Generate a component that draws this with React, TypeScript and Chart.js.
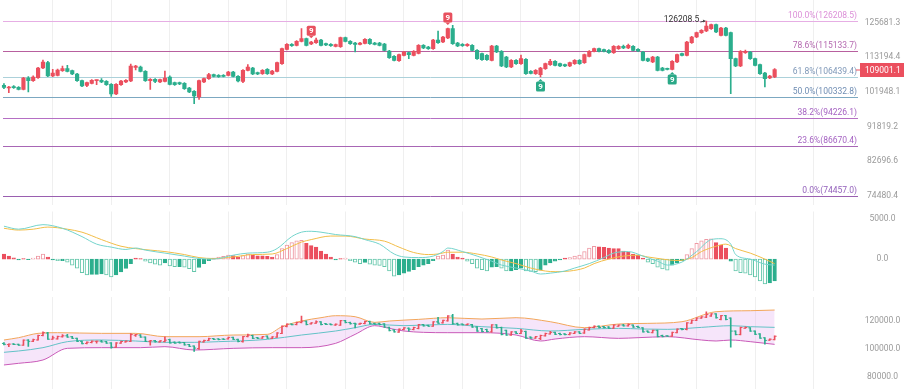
import React, { useEffect, useRef } from "react";
import { Chart, registerables } from "chart.js";

Chart.register(...registerables);

// ---------------- data ----------------
const opens = [
  103950, 103120, 103540, 103330, 102710, 106270, 105420, 106380, 109530, 111300,
  106920, 107130, 108650, 109310, 108650, 107560, 105420, 103950, 104580, 105430,
  105530, 105210, 104260, 101270, 104160, 105000, 105320, 109750, 109860, 108430,
  105420, 105850, 105000, 105210, 106600, 104790, 104790, 104580, 103120, 102090,
  100360, 105000, 106060, 107350, 107130, 107030, 107130, 108220, 106810, 105210,
  108760, 109530, 108000, 107670, 109090, 107560, 108430, 110970, 115880, 117630,
  117280, 118700, 119660, 117750, 118230, 119180, 117870, 117630, 116930, 116810,
  120020, 118700, 118100, 117630, 117990, 119420, 118100, 118100, 117750, 115300,
  113450, 111980, 113800, 114710, 113800, 114480, 117280, 116690, 116110, 119180,
  118470, 119900, 123320, 118100, 117630, 117160, 117280, 115530, 114370, 113800,
  112100, 117050, 115180, 113220, 109860, 112100, 110970, 112430, 108430, 107670,
  107350, 109310, 110630, 111760, 110970, 110630, 110190, 110970, 112100, 111300,
  113450, 115180, 116110, 115760, 115530, 114710, 116110, 116930, 116340, 116930,
  115880, 114940, 112660, 111530, 113220, 109530, 109310, 109090, 111530, 114370,
  113800, 118230, 120260, 121850, 122460, 123320, 124820, 120870, 123570, 121850,
  112660, 110190, 114710, 114940, 112660, 110630, 107890, 106270, 106600,
];
const highs = [
  104470, 103640, 103850, 103540, 106490, 106700, 107000, 109750, 112200, 111760,
  109090, 109200, 110190, 110410, 108870, 107780, 105640, 105010, 105750, 105640,
  106060, 105420, 104470, 104470, 105530, 105750, 110860, 110410, 110190, 108650,
  106060, 106060, 105960, 108540, 107000, 105000, 105010, 104790, 103330, 102300,
  105640, 106270, 107780, 107560, 107350, 107350, 108430, 108430, 107030, 108980,
  110630, 109750, 108220, 108980, 109310, 108760, 111530, 116340, 117870, 117870,
  118940, 123320, 119900, 118700, 119900, 119420, 118100, 117870, 117750, 120260,
  120260, 118940, 118340, 118340, 119660, 119660, 118340, 118340, 117990, 115530,
  113680, 114250, 115180, 114940, 115410, 117520, 117520, 116930, 119420, 122460,
  120500, 123570, 124570, 118340, 117870, 117870, 117520, 115760, 114600, 114020,
  117280, 117280, 115410, 113450, 112320, 112320, 113900, 112660, 108650, 108980,
  109750, 111190, 112430, 111980, 111190, 110860, 111530, 112320, 112320, 114250,
  115410, 116340, 116340, 115990, 115760, 117160, 117160, 117400, 117750, 117160,
  116110, 115180, 112880, 113450, 113450, 109750, 109530, 111980, 114250, 114600,
  118700, 120500, 122090, 122960, 126208.5, 125070, 125070, 123820, 123820, 122090,
  112880, 115410, 115640, 115180, 112880, 110860, 108110, 107130, 109310,
];
const lows = [
  102910, 101680, 103020, 102500, 102500, 101880, 105200, 106170, 109310, 106700,
  106700, 106920, 108430, 108210, 107350, 105200, 103540, 103540, 104370, 104160,
  104790, 103950, 100560, 101070, 103950, 104790, 105110, 108870, 108210, 105210,
  102710, 104790, 104790, 105000, 104050, 103950, 104160, 102710, 101680, 98360,
  99660, 104790, 105850, 106600, 106490, 106600, 106920, 106600, 105000, 104790,
  108540, 107350, 107350, 107450, 107450, 107350, 108220, 110750, 115650, 116930,
  117050, 118460, 117050, 117520, 118000, 117050, 117160, 116930, 116700, 116580,
  118460, 117630, 114940, 117400, 117750, 117630, 117400, 117050, 115300, 112770,
  111870, 111760, 113570, 112660, 113570, 114250, 116110, 115880, 115880, 117990,
  118230, 119660, 117630, 116810, 116930, 116930, 115300, 112430, 112100, 112100,
  111870, 114710, 109970, 109640, 109640, 110750, 110750, 107450, 107560, 107450,
  106600, 109090, 110410, 110190, 109970, 109970, 109970, 110750, 110750, 111080,
  113220, 114940, 114940, 114940, 114480, 114480, 115880, 116110, 116110, 115300,
  115060, 111870, 111640, 111300, 108540, 108540, 108870, 108870, 111300, 113570,
  113570, 117990, 120020, 121600, 122210, 123070, 121850, 120630, 120630, 101370,
  109970, 109970, 114480, 112430, 110190, 107450, 103430, 106060, 106380,
];
const closes = [
  103330, 103430, 103230, 102710, 106270, 105420, 106600, 109530, 111530, 106920,
  107890, 108870, 109310, 108430, 107560, 105420, 103750, 104790, 105530, 105530,
  105000, 104160, 101270, 104260, 105320, 105530, 110190, 110190, 108430, 105420,
  105850, 105210, 105750, 106270, 104260, 104160, 104370, 102910, 101880, 100660,
  105420, 106060, 107350, 106810, 106700, 106810, 108220, 106810, 105320, 108760,
  109860, 107560, 107560, 108760, 107670, 108540, 111300, 116110, 117630, 117160,
  118700, 119660, 117280, 118470, 119180, 117280, 117400, 117160, 117520, 120020,
  118700, 117870, 117630, 118100, 119420, 117870, 117630, 117280, 115530, 112990,
  112100, 114020, 114940, 114020, 115180, 117280, 116340, 116110, 119180, 118230,
  120260, 123320, 117870, 117050, 117160, 117630, 115530, 112660, 112320, 112320,
  117050, 114940, 110190, 109860, 112100, 110970, 112660, 107670, 107780, 108760,
  109530, 110970, 111760, 110410, 110190, 110190, 111300, 112100, 110970, 114020,
  115180, 116110, 115180, 115180, 114710, 116930, 116930, 116340, 117280, 115530,
  115300, 112100, 111870, 113220, 108760, 108760, 109090, 111760, 114020, 113800,
  118470, 120260, 121850, 122710, 124320, 124820, 122090, 123570, 120870, 112660,
  110190, 115180, 115180, 112660, 110410, 107670, 106060, 106920, 109001.1,
];

const macdHist = [
  630, 370, 150, -110, 70, -70, 110, 370, 630, 260,
  -110, -185, -185, -370, -740, -1110, -1670, -1960, -1890, -1890,
  -1850, -1960, -2220, -1960, -1590, -1150, -560, 110, 70, -260,
  -480, -630, -740, -480, -850, -930, -930, -1000, -1190, -1560,
  -1040, -560, -185, 110, 260, 330, 480, 440, 260, 440,
  630, 480, 410, 410, 330, 260, 560, 1300, 1740, 2040,
  2260, 2330, 1960, 1670, 1480, 1000, 630, 260, -110, 70,
  110, -185, -370, -560, -410, -630, -740, -780, -930, -1480,
  -2110, -1960, -1740, -1520, -1300, -930, -740, -560, -185, 370,
  480, 1110, 630, 260, 110, -260, -560, -1110, -1300, -1480,
  -1000, -930, -1110, -1480, -1480, -1300, -1110, -1480, -1520, -1560,
  -1370, -740, -480, -260, -110, 110, 185, 370, 480, 930,
  1370, 1590, 1520, 1440, 1370, 1300, 1300, 1000, 850, 630,
  480, 110, -370, -560, -1000, -1220, -1370, -740, -480, -185,
  560, 1300, 1960, 2260, 2440, 2520, 2040, 1740, 1370, -260,
  -1480, -1670, -1740, -1960, -2220, -2700, -3070, -2960, -2700,
];

// [candle index, value]
const difPoints = [
  [0, 4070], [3, 3700], [8, 4260], [12, 3810], [16, 2780], [19, 1850], [22, 1480], [25, 1190],
  [27, 1370], [29, 1110], [33, 740], [37, 370], [40, 70], [43, 0], [47, 480], [50, 740], [54, 850],
  [56, 1300], [59, 2780], [61, 3330], [63, 3440], [65, 3330], [68, 3040], [72, 2780], [74, 2410],
  [77, 1850], [80, 630], [82, 260], [85, 185], [88, 370], [90, 930], [91, 1370], [94, 930], [97, 370],
  [100, -260], [102, -740], [105, -1110], [108, -1480], [110, -1850], [112, -1740], [115, -1480],
  [117, -1110], [120, -560], [123, 185], [125, 740], [128, 930], [131, 370], [134, -260], [136, -740],
  [139, -370], [142, 930], [145, 2410], [147, 2520], [149, 1850], [150, 560], [153, 0], [156, -630], [158, -740],
];
const deaPoints = [
  [0, 3810], [3, 3590], [6, 3700], [9, 3960], [13, 3700], [16, 3330], [20, 2410], [24, 1590], [27, 1300],
  [30, 1110], [33, 930], [37, 560], [40, 185], [43, 70], [47, 260], [51, 560], [55, 630], [58, 1300],
  [61, 2110], [63, 2410], [67, 2850], [70, 2850], [74, 2480], [78, 2220], [81, 1480], [84, 815], [87, 560],
  [89, 630], [91, 850], [94, 850], [97, 630], [100, 260], [102, -110], [105, -560], [108, -1110],
  [111, -1480], [113, -1560], [116, -1480], [119, -1110], [121, -560], [124, 0], [127, 370], [130, 480],
  [132, 260], [135, 0], [138, -185], [141, 185], [143, 930], [146, 1590], [148, 1850], [150, 1300],
  [153, 740], [156, 0], [158, -560],
];
const bollUpper = [
  [0, 106350], [3, 108000], [7, 111060], [11, 111530], [20, 111060], [27, 111060], [33, 108710],
  [40, 108710], [47, 109880], [54, 110350], [57, 115770], [61, 119770], [65, 122120], [68, 123530],
  [72, 122820], [76, 118820], [79, 119770], [85, 120940], [91, 122120], [98, 121180], [105, 122120],
  [112, 119290], [119, 115060], [126, 117650], [132, 118120], [139, 119290], [146, 126350],
  [153, 127060], [158, 127530],
];
const bollMid = [
  [0, 97650], [3, 98590], [8, 100940], [13, 105180], [20, 106350], [27, 105650], [33, 104710],
  [39, 104710], [44, 105180], [54, 106820], [61, 109880], [68, 112710], [72, 115060], [76, 117410],
  [82, 116470], [91, 117410], [98, 115770], [105, 114590], [112, 112710], [119, 113880], [126, 114590],
  [131, 114120], [136, 113880], [143, 115290], [149, 116470], [153, 115770], [158, 115290],
];
const bollLower = [
  [0, 88710], [3, 89880], [8, 92240], [13, 100470], [20, 100940], [28, 100940], [33, 101650],
  [39, 99290], [47, 100470], [55, 100940], [61, 100940], [68, 104000], [72, 110350], [76, 116470],
  [79, 114590], [82, 112710], [86, 111770], [91, 111530], [98, 111530], [105, 109880], [110, 105650],
  [113, 107060], [119, 108710], [126, 107530], [130, 108000], [136, 108710], [143, 106350],
  [146, 105650], [149, 106350], [153, 105180], [158, 103290],
];

const priceTicks = [125681.3, 113194.4, 101948.1, 91819.2, 82696.6, 74480.4];
const macdTicks = [5000, 0];
const bollTicks = [120000, 100000, 80000];

const fibRatios = ["100.0%", "78.6%", "61.8%", "50.0%", "38.2%", "23.6%", "0.0%"];
const fibValues = [126208.5, 115133.7, 106439.4, 100332.8, 94226.1, 86670.4, 74457.0];

const tdSellIdx = [63, 91];
const tdBuyIdx = [110, 137];
const tdLabel = "9";
const futureSlots = 17;

// ---------------- styles ----------------
const FONT = "Roboto, 'Noto Sans', sans-serif";
const FS = 8.5;
const UP = "#eb4f5e";
const DOWN = "#2bae8d";
const UP_HOLLOW = "#ee98a3";
const DOWN_HOLLOW = "#63c6aa";
const DIF_COLOR = "#74d4cc";
const DEA_COLOR = "#f2bd48";
const BB_UP = "#f2a65a";
const BB_MID = "#62c2c6";
const BB_LOW = "#c95ab8";
const BB_FILL = "rgba(228, 175, 238, 0.32)";
const AXIS_TEXT = "#9a9a9a";
const fibLineColors = ["#e6aee4", "#b8609f", "#acd1da", "#7ca8c1", "#b56fc4", "#a866b5", "#9a5fb0"];
const fibTextColors = ["#dc8fd8", "#b569b0", "#7f98b8", "#6f8db3", "#a563c2", "#a563c2", "#9360bb"];
const AXIS_W = 44;

const labels = [
  ...closes.map((_, i) => String(i)),
  ...Array.from({ length: futureSlots }, (_, k) => String(closes.length + k)),
];

const isUp = (i: number) => closes[i] >= opens[i];
const candleColor = (c: any) => (isUp(c.dataIndex) ? UP : DOWN);
const toXY = (pts: number[][]) => pts.map(([i, v]) => ({ x: String(i), y: v }));
const isHollow = (i: number) => i > 0 && Math.abs(macdHist[i]) > Math.abs(macdHist[i - 1]);

function xAxis(): any {
  return {
    type: "category",
    offset: true,
    grid: {
      offset: false,
      drawTicks: false,
      lineWidth: 1,
      color: (c: any) => (c.index % 12 === 10 ? "#efefef" : "rgba(0,0,0,0)"),
    },
    border: { display: false },
    ticks: { display: false },
  };
}

function yAxis(type: string, min: number, max: number, tickValues: number[], pad: number): any {
  return {
    type,
    position: "right",
    min,
    max,
    afterBuildTicks: (s: any) => {
      s.ticks = tickValues.map((v) => ({ value: v }));
    },
    afterFit: (s: any) => {
      s.width = AXIS_W;
    },
    grid: { display: false, drawTicks: false },
    border: { display: false },
    ticks: {
      crossAlign: "center",
      padding: pad,
      color: AXIS_TEXT,
      font: { size: FS, family: FONT },
      callback: (v: any) => Number(v).toFixed(1),
    },
  };
}

const baseOptions = () => ({
  responsive: false,
  animation: false,
  events: [],
  layout: { padding: { left: 1.5, right: 0, top: 10, bottom: 10 } },
  plugins: { legend: { display: false }, tooltip: { enabled: false } },
});

function drawTd(ctx: CanvasRenderingContext2D, cx: number, tipY: number, dir: "down" | "up", color: string) {
  const w = 9;
  const h = 10;
  const p = 2.5;
  const top = dir === "down" ? tipY - p - h : tipY + p;
  ctx.fillStyle = color;
  ctx.beginPath();
  if ((ctx as any).roundRect) (ctx as any).roundRect(cx - w / 2, top, w, h, 1.5);
  else ctx.rect(cx - w / 2, top, w, h);
  ctx.fill();
  ctx.beginPath();
  if (dir === "down") {
    ctx.moveTo(cx - 2.5, top + h);
    ctx.lineTo(cx + 2.5, top + h);
  } else {
    ctx.moveTo(cx - 2.5, top);
    ctx.lineTo(cx + 2.5, top);
  }
  ctx.lineTo(cx, tipY);
  ctx.closePath();
  ctx.fill();
  ctx.fillStyle = "#ffffff";
  ctx.font = `bold 8px ${FONT}`;
  ctx.textAlign = "center";
  ctx.textBaseline = "middle";
  ctx.fillText(tdLabel, cx, top + h / 2 + 0.5);
}

const pricePlugin = {
  id: "priceOverlay",
  beforeDatasetsDraw(chart: any) {
    const { ctx, chartArea, scales } = chart;
    const y = scales.y;
    ctx.save();
    ctx.font = `${FS}px ${FONT}`;
    ctx.textAlign = "right";
    ctx.textBaseline = "alphabetic";
    fibValues.forEach((v, k) => {
      const py = Math.round(y.getPixelForValue(v)) + 0.5;
      ctx.strokeStyle = fibLineColors[k];
      ctx.lineWidth = 1;
      ctx.beginPath();
      ctx.moveTo(chartArea.left + 1.5, py);
      ctx.lineTo(chartArea.right - 2, py);
      ctx.stroke();
      ctx.fillStyle = fibTextColors[k];
      ctx.fillText(`${fibRatios[k]}(${v.toFixed(1)})`, chartArea.right - 3, py - 3.5);
    });
    ctx.restore();
  },
  afterDatasetsDraw(chart: any) {
    const { ctx, scales } = chart;
    const x = scales.x;
    const y = scales.y;
    ctx.save();
    tdSellIdx.forEach((i) => drawTd(ctx, x.getPixelForValue(i), y.getPixelForValue(highs[i]) - 3, "down", "#e8505e"));
    tdBuyIdx.forEach((i) => drawTd(ctx, x.getPixelForValue(i), y.getPixelForValue(lows[i]) + 2, "up", "#2aa987"));
    // max high label
    const maxHigh = Math.max(...highs);
    const mi = highs.indexOf(maxHigh);
    const mx = x.getPixelForValue(mi);
    const my = y.getPixelForValue(maxHigh);
    ctx.strokeStyle = "#444";
    ctx.lineWidth = 1;
    ctx.beginPath();
    ctx.moveTo(mx - 6, my + 1);
    ctx.lineTo(mx - 1, my);
    ctx.stroke();
    ctx.beginPath();
    ctx.moveTo(mx - 1, my);
    ctx.lineTo(mx - 3.5, my - 1.5);
    ctx.lineTo(mx - 3, my + 1.5);
    ctx.closePath();
    ctx.fillStyle = "#444";
    ctx.fill();
    ctx.fillStyle = "#333";
    ctx.font = `${FS}px ${FONT}`;
    ctx.textAlign = "right";
    ctx.textBaseline = "middle";
    ctx.fillText(maxHigh.toFixed(1), mx - 7, my - 1);
    ctx.restore();
  },
  afterDraw(chart: any) {
    const { ctx, chartArea, scales } = chart;
    const y = scales.y;
    const last = closes.length - 1;
    const py = Math.round(y.getPixelForValue(closes[last]));
    ctx.save();
    ctx.fillStyle = isUp(last) ? UP : DOWN;
    ctx.fillRect(chartArea.right, py - 7, AXIS_W, 14);
    ctx.fillRect(chartArea.right - 4, py - 0.5, 4, 1);
    ctx.fillStyle = "#ffffff";
    ctx.font = `${FS}px ${FONT}`;
    ctx.textAlign = "left";
    ctx.textBaseline = "middle";
    ctx.fillText(closes[last].toFixed(1), chartArea.right + 5, py + 0.5);
    ctx.restore();
  },
};

const ohlcTickPlugin = {
  id: "ohlcTicks",
  afterDatasetsDraw(chart: any) {
    const { ctx, scales } = chart;
    const x = scales.x;
    const y = scales.y;
    ctx.save();
    ctx.lineWidth = 1;
    closes.forEach((c, i) => {
      const cx = x.getPixelForValue(i);
      const yo = y.getPixelForValue(opens[i]);
      const yc = y.getPixelForValue(c);
      ctx.strokeStyle = isUp(i) ? UP : DOWN;
      ctx.beginPath();
      ctx.moveTo(cx - 2, yo);
      ctx.lineTo(cx, yo);
      ctx.moveTo(cx, yc);
      ctx.lineTo(cx + 2, yc);
      ctx.stroke();
    });
    ctx.restore();
  },
};

export default function App() {
  const priceRef = useRef<HTMLCanvasElement>(null);
  const macdRef = useRef<HTMLCanvasElement>(null);
  const bollRef = useRef<HTMLCanvasElement>(null);

  useEffect(() => {
    const priceChart = new Chart(priceRef.current as HTMLCanvasElement, {
      type: "bar",
      data: {
        labels,
        datasets: [
          {
            data: opens.map((o, i) => [o, closes[i]]),
            backgroundColor: candleColor,
            barThickness: 3.5,
            minBarLength: 1,
            grouped: false,
          } as any,
          {
            data: lows.map((l, i) => [l, highs[i]]),
            backgroundColor: candleColor,
            barThickness: 1,
            grouped: false,
          } as any,
        ],
      },
      options: {
        ...baseOptions(),
        scales: {
          x: xAxis(),
          y: yAxis("logarithmic", 72460, 134459, priceTicks, 4.7),
        },
      } as any,
      plugins: [pricePlugin],
    });

    const macdChart = new Chart(macdRef.current as HTMLCanvasElement, {
      type: "bar",
      data: {
        labels,
        datasets: [
          {
            type: "line",
            data: toXY(difPoints),
            borderColor: DIF_COLOR,
            borderWidth: 1,
            pointRadius: 0,
            cubicInterpolationMode: "monotone",
            fill: false,
          } as any,
          {
            type: "line",
            data: toXY(deaPoints),
            borderColor: DEA_COLOR,
            borderWidth: 1,
            pointRadius: 0,
            cubicInterpolationMode: "monotone",
            fill: false,
          } as any,
          {
            type: "bar",
            data: macdHist,
            backgroundColor: (c: any) =>
              isHollow(c.dataIndex) ? "#ffffff" : macdHist[c.dataIndex] >= 0 ? UP : DOWN,
            borderColor: (c: any) =>
              macdHist[c.dataIndex] >= 0
                ? isHollow(c.dataIndex) ? UP_HOLLOW : UP
                : isHollow(c.dataIndex) ? DOWN_HOLLOW : DOWN,
            borderWidth: 1,
            borderSkipped: false,
            barThickness: 3.6,
            grouped: false,
          } as any,
        ],
      },
      options: {
        ...baseOptions(),
        scales: {
          x: xAxis(),
          y: yAxis("linear", -3889, 5889, macdTicks, 9.4),
        },
      } as any,
    });

    const bollChart = new Chart(bollRef.current as HTMLCanvasElement, {
      type: "bar",
      data: {
        labels,
        datasets: [
          {
            type: "bar",
            data: lows.map((l, i) => [l, highs[i]]),
            backgroundColor: candleColor,
            barThickness: 1,
            grouped: false,
          } as any,
          {
            type: "line",
            data: toXY(bollMid),
            borderColor: BB_MID,
            borderWidth: 1,
            pointRadius: 0,
            cubicInterpolationMode: "monotone",
            fill: false,
          } as any,
          {
            type: "line",
            data: toXY(bollLower),
            borderColor: BB_LOW,
            borderWidth: 1,
            pointRadius: 0,
            cubicInterpolationMode: "monotone",
            fill: false,
          } as any,
          {
            type: "line",
            data: toXY(bollUpper),
            borderColor: BB_UP,
            backgroundColor: BB_FILL,
            borderWidth: 1,
            pointRadius: 0,
            cubicInterpolationMode: "monotone",
            fill: 2,
          } as any,
        ],
      },
      options: {
        ...baseOptions(),
        scales: {
          x: xAxis(),
          y: yAxis("linear", 71732, 136748, bollTicks, 4.7),
        },
      } as any,
      plugins: [ohlcTickPlugin],
    });

    return () => {
      priceChart.destroy();
      macdChart.destroy();
      bollChart.destroy();
    };
  }, []);

  return (
    <div
      style={{
        position: "fixed",
        left: 0,
        top: 0,
        width: 904,
        height: 389,
        overflow: "hidden",
        background: "#ffffff",
      }}
    >
      <canvas ref={priceRef} width={904} height={225} style={{ position: "absolute", left: 0, top: -10 }} />
      <canvas ref={macdRef} width={904} height={108} style={{ position: "absolute", left: 0, top: 197 }} />
      <canvas ref={bollRef} width={904} height={112} style={{ position: "absolute", left: 0, top: 287 }} />
    </div>
  );
}
